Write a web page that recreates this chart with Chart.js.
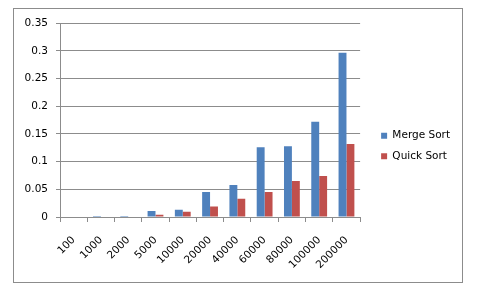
<!DOCTYPE html>
<html lang="en">
<head>
<meta charset="UTF-8">
<title>Merge Sort vs Quick Sort</title>
<script src="https://cdn.jsdelivr.net/npm/chart.js@4.4.0/dist/chart.umd.min.js"></script>
<style>
body{margin:0;background:#fff;}
#box{position:absolute;left:13px;top:8px;width:448px;height:273px;border:1px solid #8c8c8c;}
</style>
</head>
<body>
<div id="box"><canvas id="c" width="448" height="273"></canvas></div>
<script>
// input sizes on the x axis
var sizes = ['100','1000','2000','5000','10000','20000','40000','60000','80000','100000','200000'];
// seconds
var mergeSort = [0, 0.002, 0.002, 0.011, 0.013, 0.045, 0.058, 0.126, 0.128, 0.172, 0.297];
var quickSort = [0, 0, 0, 0.004, 0.0095, 0.019, 0.033, 0.045, 0.065, 0.074, 0.132];
var yTicks = [0, 0.05, 0.1, 0.15, 0.2, 0.25, 0.3, 0.35];

var gridClr = '#8c8c8c';
var fnt = {family: 'DejaVu Sans', size: 10.5};

// push the legend a bit away from the plot, like the excel one
var legendShift = {
    id: 'legendShift',
    afterLayout: function(chart){
        var lg = chart.legend;
        lg.left += 11; lg.right += 11;
        lg.top -= 6; lg.bottom -= 6;
    }
};

var ctx = document.getElementById('c').getContext('2d');
var chart = new Chart(ctx, {
    type: 'bar',
    data: {
        labels: sizes,
        datasets: [{
            label: 'Merge Sort',
            data: mergeSort,
            backgroundColor: '#4f81bd',
            categoryPercentage: 0.58,
            barPercentage: 1.0
        }, {
            label: 'Quick Sort',
            data: quickSort,
            backgroundColor: '#c0504d',
            categoryPercentage: 0.58,
            barPercentage: 1.0
        }]
    },
    options: {
        responsive: false,
        animation: false,
        layout: {padding: {left: 0, top: 13, right: 13, bottom: 0}},
        plugins: {
            legend: {
                position: 'right',
                labels: {boxWidth: 6, boxHeight: 6, padding: 10, color: '#000', font: fnt}
            },
            tooltip: {enabled: false}
        },
        scales: {
            x: {
                grid: {offset: true, drawOnChartArea: false, color: gridClr, tickLength: 5},
                border: {color: gridClr},
                ticks: {color: '#000', font: fnt, minRotation: 45, maxRotation: 45, padding: 12, autoSkip: false},
                afterFit: function(s){ s.height = 65; }
            },
            y: {
                min: 0,
                max: 0.35,
                grid: {color: gridClr, tickLength: 4},
                border: {color: gridClr},
                ticks: {color: '#000', font: fnt, padding: 8,
                    callback: function(v){ return String(Number(v.toFixed(2))); }},
                afterBuildTicks: function(s){ s.ticks = yTicks.map(function(v){ return {value: v}; }); },
                afterFit: function(s){ s.width = 46; }
            }
        }
    },
    plugins: [legendShift]
});
</script>
</body>
</html>
